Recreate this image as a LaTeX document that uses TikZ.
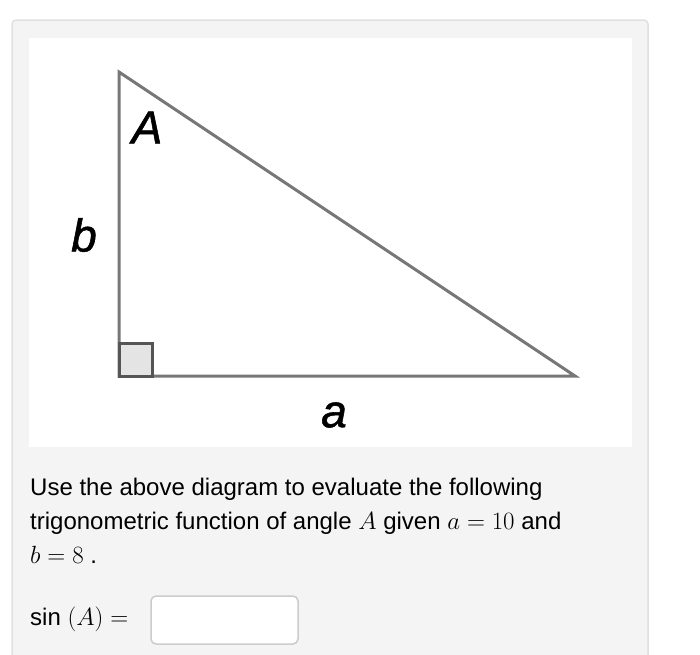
\documentclass[tikz,border=0pt]{standalone}
\usepackage{fontspec}
\setmainfont{Liberation Sans}
\newfontfamily\labelfont[FakeBold=1.2]{Liberation Sans}
\usepackage{tikz}
\definecolor{panelgray}{HTML}{F4F4F4}
\definecolor{panelline}{HTML}{E0E0E0}
\definecolor{edgegray}{HTML}{777777}
\definecolor{squaregray}{HTML}{E4E4E4}
\definecolor{squareline}{HTML}{555555}
\definecolor{boxline}{HTML}{CCCCCC}

\begin{document}
\begin{tikzpicture}[x=1pt,y=-1pt,
	label/.style={inner sep=0pt, font=\fontsize{46}{50}\labelfont\itshape},
	line/.style={inner sep=0pt, anchor=base west, font=\fontsize{24}{28}\selectfont}]
				\useasboundingbox (0,0) rectangle (700,654);
				\clip (0,0) rectangle (700,654);
				
				% Panels
				\draw[panelline, fill=panelgray, line width=1.5pt, rounded corners=4pt] (12,20) rectangle (648,680);
				\fill[white] (29,38) rectangle (632,447);
				
				% Triangle
				\coordinate (top) at (119,72);
				\coordinate (corner) at (119,376);
				\coordinate (right) at (575,376);
				\draw[edgegray, line width=3pt, line join=miter] (top) -- (corner) -- (right) -- cycle;
				\draw[squareline, fill=squaregray, line width=3pt] (corner) rectangle ++(33,-33);
				
				\node (labA) [label] at (147,127.5) {A};
				\node (labb) [label] at (84,235) {b};
				\node (laba) [label] at (334,415) {a};
				
				% Question
				\node (line1) [line] at (30,495) {Use the above diagram to evaluate the following};
				\node (line2) [line] at (30,529) {trigonometric function of angle $A$ given $a=10$ and};
				\node (line3) [line] at (30,563) {$b=8$ .};
				\node (sinA) [line] at (30,625) {sin $(A)=$};
				\draw[boxline, fill=white, line width=1.5pt, rounded corners=5pt] (151,596) rectangle (298,644);
				
			\end{tikzpicture}
\end{document}
